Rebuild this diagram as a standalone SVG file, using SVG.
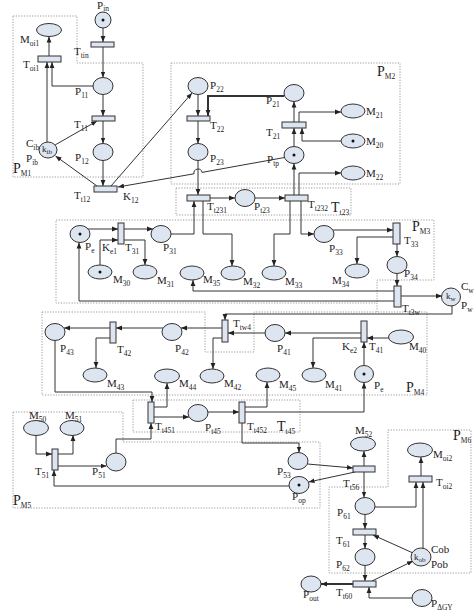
<svg xmlns="http://www.w3.org/2000/svg" width="474" height="611" viewBox="0 0 474 611">
<style>
.pl{fill:#dde5f0;stroke:#333;stroke-width:1}
.tr{fill:#dde5f0;stroke:#333;stroke-width:1}
.e{fill:none;stroke:#333;stroke-width:1;marker-end:url(#a)}
.thick{stroke-width:2}
.box{fill:none;stroke:#9a9a9a;stroke-width:1;stroke-dasharray:1.2 1.5}
.tok{fill:#111}
text{font-family:"Liberation Serif","Times New Roman",serif;font-size:11px;fill:#222}
.s{font-size:7.5px}
.big{font-size:14px}
</style>
<defs>
<marker id="a" viewBox="0 0 10 10" refX="10" refY="5" markerWidth="6" markerHeight="6" markerUnits="userSpaceOnUse" orient="auto"><path d="M0,1 L10,5 L0,9 z" fill="#222"/></marker>
</defs>
<rect width="474" height="611" fill="#fff"/>

<g id="regions">
<polygon class="box" points="13,16 77,16 77,63 143,63 143,177 13,177"/>
<rect class="box" x="171" y="63" width="229" height="121"/>
<rect class="box" x="176" y="188" width="175" height="27"/>
<polyline class="box" points="377,312 377,303 56,303 56,220 434,220 434,280 377,280 377,303"/>
<polygon class="box" points="42,312 205,312 205,352 254,352 254,312 427,312 427,395 42,395"/>
<rect class="box" x="133" y="400" width="167" height="32"/>
<polygon class="box" points="13,412 123,412 123,442 320,442 320,508 13,508"/>
<polygon class="box" points="388,430 471,430 471,573 329,573 329,487 388,487"/>
<text class="big" x="13" y="173">P<tspan class="s" dy="3">M1</tspan></text>
<text class="big" x="377" y="76">P<tspan class="s" dy="3">M2</tspan></text>
<text class="big" x="331" y="212">T<tspan class="s" dy="3">t23</tspan></text>
<text class="big" x="412" y="231">P<tspan class="s" dy="3">M3</tspan></text>
<text class="big" x="406" y="392">P<tspan class="s" dy="3">M4</tspan></text>
<text class="big" x="277" y="431">T<tspan class="s" dy="3">t45</tspan></text>
<text class="big" x="13" y="505">P<tspan class="s" dy="3">M5</tspan></text>
<text class="big" x="453" y="440">P<tspan class="s" dy="3">M6</tspan></text>
</g>

<g id="connectors">
<path class="e" d="M103,28 V42"/>
<path class="e" d="M103,47 V77.5"/>
<path class="e" d="M93,86 H52 V62"/>
<path class="e" d="M49,56 V36.5"/>
<path class="e" d="M47,142 V62"/>
<path class="e" d="M103,94.5 V116"/>
<path class="e" d="M55,145 L97,121"/>
<path class="e" d="M103,121 V143.5"/>
<path class="e" d="M103,160.5 V186"/>
<path class="e" d="M97,186 L55.5,156"/>
<path class="e" d="M111,186 L192,93"/>
<path class="e" d="M284.5,157.5 L202,172.4 A4,4 0 0 0 194,173.8 L118,187"/>
<path class="e" d="M198,94.5 V116"/>
<path class="e thick" d="M284,96 H208 V116"/>
<path class="e" d="M198,121 V143.5"/>
<path class="e" d="M198,160.5 V195"/>
<path class="e" d="M210,198 H235"/>
<path class="e" d="M255,198 H285"/>
<path class="e" d="M294,195 V163.5"/>
<path class="e" d="M294,146.5 V128"/>
<path class="e" d="M294,122 V101.5"/>
<path class="e" d="M299,122 V112 H341"/>
<path class="e" d="M341,141 H302 V128"/>
<path class="e" d="M299,195 V173 H341"/>
<path class="e" d="M290,201 V234 H274 V266"/>
<path class="e" d="M301,201 V234 H314"/>
<path class="e" d="M171,234 H194 V201"/>
<path class="e" d="M203,201 V234 H232 V266"/>
<path class="e" d="M88,229 H118"/>
<path class="e" d="M100,265 V240 H118"/>
<path class="e" d="M124,229 H153"/>
<path class="e" d="M124,240 H145 V265"/>
<path class="e" d="M332,230 H393"/>
<path class="e" d="M393,237 H357 V264"/>
<path class="e" d="M397,244 V256.5"/>
<path class="e" d="M397,273.5 V286"/>
<path class="e" d="M401,296 H442"/>
<path class="e" d="M394,291 H193 V280"/>
<path class="e" d="M394,301 H79 V242.5"/>
<path class="e" d="M452,305 V314 H225 V320"/>
<path class="e" d="M222,328 H181"/>
<path class="e" d="M266,333 H228"/>
<path class="e" d="M222,338 H213 V369"/>
<path class="e" d="M163,328 H116"/>
<path class="e" d="M110,328 H64"/>
<path class="e" d="M110,338 H96 V368"/>
<path class="e" d="M361,333 H285"/>
<path class="e" d="M361,338 H313 V368"/>
<path class="e" d="M389,338 H367"/>
<path class="e" d="M364,365.5 V342"/>
<path class="e" d="M55,340.5 V392 H152 V402"/>
<path class="e" d="M154,407 H167 V383"/>
<path class="e" d="M154,417 H189"/>
<path class="e" d="M207.5,412 H239"/>
<path class="e" d="M245,407 H267 V382"/>
<path class="e" d="M245,412 H364 V382.5"/>
<path class="e" d="M242,423 V443 H299 V452.5"/>
<path class="e" d="M116,453.5 V439 H151 V423"/>
<path class="e" d="M36,435 V454 H52"/>
<path class="e" d="M58,454 H73 V435"/>
<path class="e" d="M58,466 H106.5"/>
<path class="e" d="M289,486 H54 V470"/>
<path class="e" d="M307.5,464 L353,468"/>
<path class="e" d="M355,472 L308.5,482"/>
<path class="e" d="M364,466 V451"/>
<path class="e" d="M364,472 V497.5"/>
<path class="e" d="M375,507 H416 V482"/>
<path class="e" d="M421,476 V457"/>
<path class="e" d="M423,549 V482"/>
<path class="e" d="M365,514.5 V529"/>
<path class="e" d="M413,553 L373,535"/>
<path class="e" d="M365,535 V548.5"/>
<path class="e" d="M365,565.5 V581"/>
<path class="e thick" d="M353,584 H321"/>
<path class="e" d="M372,581 L413,561"/>
<path class="e" d="M412,598 H369 V587"/>
</g>

<g id="P_in"><ellipse class="pl" cx="103" cy="20" rx="8" ry="8"/><circle class="tok" cx="103" cy="20" r="1.5"/><text x="97" y="9">P<tspan class="s" dy="2">in</tspan></text></g>
<g id="T_tin"><rect class="tr" x="91" y="42" width="23" height="5"/><text x="74" y="55">T<tspan class="s" dy="3">tin</tspan></text></g>
<g id="M_oi1"><ellipse class="pl" cx="49" cy="30" rx="12.5" ry="6.5"/><text x="20" y="43">M<tspan class="s" dy="3">oi1</tspan></text></g>
<g id="T_oi1"><rect class="tr" x="38" y="56" width="23" height="6"/><text x="23" y="68">T<tspan class="s" dy="3">oi1</tspan></text></g>
<g id="P11"><ellipse class="pl" cx="103" cy="86" rx="10" ry="8.5"/><text x="75" y="95">P<tspan class="s" dy="3">11</tspan></text></g>
<g id="T11"><rect class="tr" x="92" y="116" width="23" height="5"/><text x="74" y="128">T<tspan class="s" dy="3">11</tspan></text></g>
<g id="k_ib"><ellipse class="pl" cx="48" cy="150" rx="9" ry="8"/><text x="42" y="152" style="font-size:9px">k<tspan class="s" dy="2" style="font-size:7px">ib</tspan></text><text x="26" y="147">C<tspan class="s" dy="3">ib</tspan></text><text x="26" y="162">P<tspan class="s" dy="3">ib</tspan></text></g>
<g id="P12"><ellipse class="pl" cx="103" cy="152" rx="10" ry="8.5"/><text x="75" y="161">P<tspan class="s" dy="3">12</tspan></text></g>
<g id="T_t12"><rect class="tr" x="94" y="186" width="23" height="6"/><text x="74" y="199">T<tspan class="s" dy="3">t12</tspan></text><text x="123" y="200">K<tspan class="s" dy="3">12</tspan></text></g>
<g id="P22"><ellipse class="pl" cx="198" cy="86" rx="10" ry="8.5"/><text x="210" y="89">P<tspan class="s" dy="3">22</tspan></text></g>
<g id="T22"><rect class="tr" x="187" y="116" width="23" height="5"/><text x="210" y="129">T<tspan class="s" dy="3">22</tspan></text></g>
<g id="P23"><ellipse class="pl" cx="198" cy="152" rx="10" ry="8.5"/><text x="210" y="162">P<tspan class="s" dy="3">23</tspan></text></g>
<g id="P21"><ellipse class="pl" cx="294" cy="93" rx="10" ry="8.5"/><text x="266" y="104">P<tspan class="s" dy="3">21</tspan></text></g>
<g id="T21"><rect class="tr" x="282" y="122" width="24" height="6"/><text x="266" y="136">T<tspan class="s" dy="3">21</tspan></text></g>
<g id="M21"><ellipse class="pl" cx="353" cy="111" rx="12" ry="7"/><text x="366" y="115">M<tspan class="s" dy="3">21</tspan></text></g>
<g id="M20"><ellipse class="pl" cx="353" cy="141" rx="12" ry="7"/><circle class="tok" cx="353" cy="141" r="1.5"/><text x="366" y="145">M<tspan class="s" dy="3">20</tspan></text></g>
<g id="P_tp"><ellipse class="pl" cx="294" cy="155" rx="10" ry="8.5"/><circle class="tok" cx="294" cy="155" r="1.5"/><text x="267" y="163">P<tspan class="s" dy="3">tp</tspan></text></g>
<g id="M22"><ellipse class="pl" cx="353" cy="173" rx="12" ry="7"/><text x="366" y="177">M<tspan class="s" dy="3">22</tspan></text></g>
<g id="T_t231"><rect class="tr" x="187" y="195" width="23" height="6"/><text x="207" y="210">T<tspan class="s" dy="3">t231</tspan></text></g>
<g id="P_t23"><ellipse class="pl" cx="245" cy="198" rx="10" ry="8.5"/><text x="254" y="210">P<tspan class="s" dy="3">t23</tspan></text></g>
<g id="T_t232"><rect class="tr" x="285" y="195" width="23" height="6"/><text x="308" y="208">T<tspan class="s" dy="3">t232</tspan></text></g>
<g id="P_e1"><ellipse class="pl" cx="80" cy="234" rx="10" ry="8.5"/><circle class="tok" cx="80" cy="234" r="1.5"/><text x="85" y="250">P<tspan class="s" dy="3">e</tspan></text></g>
<g id="T31"><rect class="tr" x="118" y="223" width="6" height="21"/><text x="102" y="251">K<tspan class="s" dy="3">e1</tspan></text><text x="125" y="251">T<tspan class="s" dy="3">31</tspan></text></g>
<g id="P31"><ellipse class="pl" cx="161" cy="234" rx="10" ry="8.5"/><text x="163" y="251">P<tspan class="s" dy="3">31</tspan></text></g>
<g id="M30"><ellipse class="pl" cx="100" cy="272" rx="12" ry="7"/><circle class="tok" cx="100" cy="272" r="1.5"/><text x="113" y="283">M<tspan class="s" dy="3">30</tspan></text></g>
<g id="M31"><ellipse class="pl" cx="145" cy="272" rx="12" ry="7"/><text x="157" y="284">M<tspan class="s" dy="3">31</tspan></text></g>
<g id="M35"><ellipse class="pl" cx="192" cy="273" rx="12" ry="7"/><text x="203" y="283">M<tspan class="s" dy="3">35</tspan></text></g>
<g id="M32"><ellipse class="pl" cx="233" cy="273" rx="12" ry="7"/><text x="243" y="285">M<tspan class="s" dy="3">32</tspan></text></g>
<g id="M33"><ellipse class="pl" cx="274" cy="273" rx="12" ry="7"/><text x="285" y="285">M<tspan class="s" dy="3">33</tspan></text></g>
<g id="P33"><ellipse class="pl" cx="324" cy="234" rx="10" ry="8.5"/><text x="329" y="252">P<tspan class="s" dy="3">33</tspan></text></g>
<g id="T33"><rect class="tr" x="393" y="223" width="7" height="21"/><text x="404" y="244">T<tspan class="s" dy="3">33</tspan></text></g>
<g id="M34"><ellipse class="pl" cx="357" cy="271" rx="12" ry="7"/><text x="332" y="284">M<tspan class="s" dy="3">34</tspan></text></g>
<g id="P34"><ellipse class="pl" cx="397" cy="265" rx="10" ry="8.5"/><text x="404" y="277">P<tspan class="s" dy="3">34</tspan></text></g>
<g id="T_t3w"><rect class="tr" x="394" y="286" width="7" height="21"/><text x="402" y="312">T<tspan class="s" dy="3">t3w</tspan></text></g>
<g id="k_w"><ellipse class="pl" cx="451" cy="297" rx="9.5" ry="9"/><text x="446" y="299" style="font-size:9px">k<tspan class="s" dy="2" style="font-size:7px">w</tspan></text><text x="461" y="290">C<tspan class="s" dy="3">w</tspan></text><text x="461" y="309">P<tspan class="s" dy="3">w</tspan></text></g>
<g id="T_tw4"><rect class="tr" x="222" y="320" width="6" height="22"/><text x="233" y="327">T<tspan class="s" dy="3">tw4</tspan></text></g>
<g id="P43"><ellipse class="pl" cx="55" cy="332" rx="10" ry="8.5"/><text x="60" y="352">P<tspan class="s" dy="3">43</tspan></text></g>
<g id="T42"><rect class="tr" x="110" y="322" width="6" height="21"/><text x="117" y="353">T<tspan class="s" dy="3">42</tspan></text></g>
<g id="P42"><ellipse class="pl" cx="172" cy="332" rx="10" ry="8.5"/><text x="175" y="352">P<tspan class="s" dy="3">42</tspan></text></g>
<g id="P41"><ellipse class="pl" cx="275" cy="333" rx="10" ry="8.5"/><text x="277" y="352">P<tspan class="s" dy="3">41</tspan></text></g>
<g id="T41"><rect class="tr" x="361" y="321" width="6" height="21"/><text x="342" y="350">K<tspan class="s" dy="3">e2</tspan></text><text x="369" y="350">T<tspan class="s" dy="3">41</tspan></text></g>
<g id="M40"><ellipse class="pl" cx="401" cy="337" rx="12.5" ry="7"/><text x="409" y="350">M<tspan class="s" dy="3">40</tspan></text></g>
<g id="M43"><ellipse class="pl" cx="95" cy="375" rx="12" ry="7"/><text x="107" y="387">M<tspan class="s" dy="3">43</tspan></text></g>
<g id="M44"><ellipse class="pl" cx="167" cy="376" rx="12.5" ry="7"/><text x="179" y="387">M<tspan class="s" dy="3">44</tspan></text></g>
<g id="M42"><ellipse class="pl" cx="212" cy="376" rx="12" ry="7"/><text x="224" y="387">M<tspan class="s" dy="3">42</tspan></text></g>
<g id="M45"><ellipse class="pl" cx="268" cy="375" rx="12" ry="7"/><text x="279" y="388">M<tspan class="s" dy="3">45</tspan></text></g>
<g id="M41"><ellipse class="pl" cx="314" cy="375" rx="12" ry="7"/><text x="325" y="388">M<tspan class="s" dy="3">41</tspan></text></g>
<g id="P_e2"><ellipse class="pl" cx="364" cy="374" rx="9.5" ry="8.5"/><circle class="tok" cx="364" cy="374" r="1.5"/><text x="374" y="389">P<tspan class="s" dy="3">e</tspan></text></g>
<g id="T_t451"><rect class="tr" x="148" y="402" width="6" height="21"/><text x="155" y="430">T<tspan class="s" dy="3">t451</tspan></text></g>
<g id="P_t45"><ellipse class="pl" cx="198" cy="413" rx="10" ry="8.5"/><text x="205" y="431">P<tspan class="s" dy="3">t45</tspan></text></g>
<g id="T_t452"><rect class="tr" x="239" y="402" width="6" height="21"/><text x="247" y="430">T<tspan class="s" dy="3">t452</tspan></text></g>
<g id="M50"><ellipse class="pl" cx="36" cy="428" rx="12.5" ry="7.5"/><text x="29" y="419">M<tspan class="s" dy="3">50</tspan></text></g>
<g id="M51"><ellipse class="pl" cx="72" cy="428" rx="12" ry="7.5"/><text x="65" y="419">M<tspan class="s" dy="3">51</tspan></text></g>
<g id="T51"><rect class="tr" x="52" y="449" width="6" height="21"/><text x="35" y="475">T<tspan class="s" dy="3">51</tspan></text></g>
<g id="P51"><ellipse class="pl" cx="116" cy="462" rx="10" ry="9"/><text x="92" y="475">P<tspan class="s" dy="3">51</tspan></text></g>
<g id="P53"><ellipse class="pl" cx="298" cy="461" rx="10" ry="8.5"/><text x="277" y="475">P<tspan class="s" dy="3">53</tspan></text></g>
<g id="P_op"><ellipse class="pl" cx="299" cy="485" rx="10" ry="8.5"/><circle class="tok" cx="299" cy="485" r="1.5"/><text x="292" y="500">P<tspan class="s" dy="3">op</tspan></text></g>
<g id="T_t56"><rect class="tr" x="353" y="466" width="22" height="6"/><text x="343" y="487">T<tspan class="s" dy="3">t56</tspan></text></g>
<g id="M52"><ellipse class="pl" cx="363" cy="444" rx="12.5" ry="7"/><text x="355" y="434">M<tspan class="s" dy="3">52</tspan></text></g>
<g id="M_oi2"><ellipse class="pl" cx="420" cy="450" rx="12.5" ry="7"/><text x="433" y="458">M<tspan class="s" dy="3">oi2</tspan></text></g>
<g id="T_oi2"><rect class="tr" x="409" y="476" width="23" height="6"/><text x="436" y="486">T<tspan class="s" dy="3">oi2</tspan></text></g>
<g id="P61"><ellipse class="pl" cx="365" cy="506" rx="10" ry="8.5"/><text x="337" y="516">P<tspan class="s" dy="3">61</tspan></text></g>
<g id="T61"><rect class="tr" x="353" y="529" width="23" height="6"/><text x="336" y="544">T<tspan class="s" dy="3">61</tspan></text></g>
<g id="P62"><ellipse class="pl" cx="365" cy="557" rx="10" ry="8.5"/><text x="336" y="568">P<tspan class="s" dy="3">62</tspan></text></g>
<g id="k_ob"><ellipse class="pl" cx="421" cy="557" rx="10" ry="9"/><text x="414" y="560" style="font-size:9px">k<tspan class="s" dy="2" style="font-size:7px">ob</tspan></text><text x="431" y="553">Cob</text><text x="431" y="568">Pob</text></g>
<g id="T_t60"><rect class="tr" x="353" y="581" width="23" height="6"/><text x="336" y="596">T<tspan class="s" dy="3">t60</tspan></text></g>
<g id="P_out"><ellipse class="pl" cx="311" cy="584" rx="10" ry="8"/><text x="303" y="598">P<tspan class="s" dy="3">out</tspan></text></g>
<g id="P_dGY"><ellipse class="pl" cx="422" cy="598" rx="10" ry="8.5"/><text x="431" y="607">P<tspan class="s" dy="3">ΔGY</tspan></text></g>
</svg>
